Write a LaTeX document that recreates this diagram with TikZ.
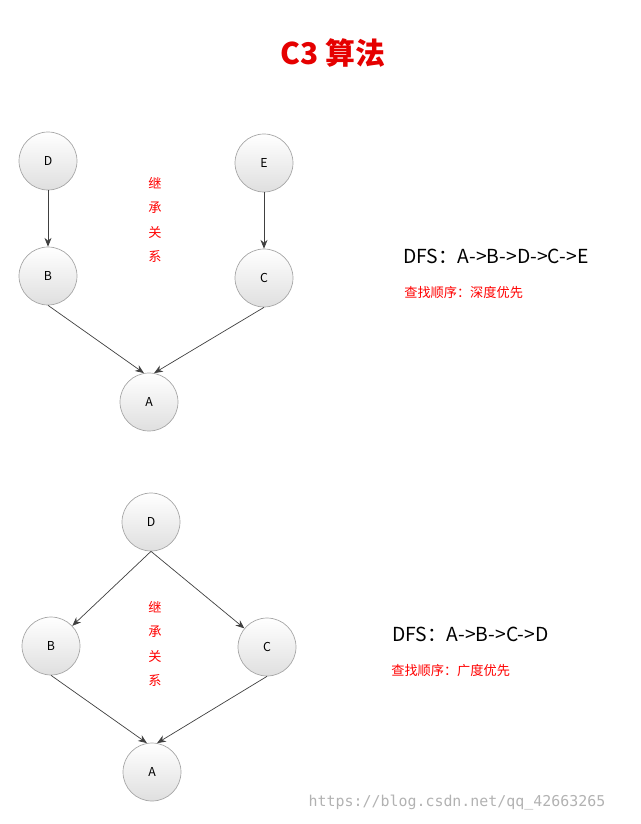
\documentclass[tikz,border=0pt]{standalone}
\usepackage{fontspec}
\setmainfont{Noto Sans CJK SC}
\setmonofont{DejaVu Sans Mono}
\usetikzlibrary{arrows.meta,shadings}

\begin{document}
\begin{tikzpicture}[x=0.02cm,y=-0.02cm,
    ball/.style={circle,draw=gray!70,inner sep=0pt,minimum size=0.2cm*5.8,
      top color=white,bottom color=gray!25,font=\fontsize{7}{8}\selectfont},
    link/.style={draw=black!75,-{Stealth[length=5pt,width=4pt]}},
    redtxt/.style={text=red,font=\fontsize{7.5}{9}\selectfont},
    rule/.style={anchor=west,inner sep=0pt,font=\fontsize{11}{13}\selectfont}]
    \useasboundingbox (0,0) rectangle (640,824);
    \node (title) at (333,53) [text=red!90!black,font=\fontsize{17}{20}\selectfont\bfseries] {C3 算法};

            % upper picture
            \node (d1) at (48,161) [ball] {D};
            \node (e1) at (264,163) [ball] {E};
            \node (b1) at (48,276) [ball] {B};
            \node (c1) at (264,278) [ball] {C};
            \node (a1) at (149,402) [ball] {A};
            \draw[link] (d1) -- (b1);
            \draw[link] (e1) -- (c1);
            \draw[link] (b1.south) -- (a1.100);
            \draw[link] (c1.south) -- (a1.80);
            \node (k1) at (155,220) [redtxt,align=center,text width=1em] {继\\[5pt]承\\[5pt]关\\[5pt]系};
            \node (r1) at (403,256) [rule] {DFS：A->B->D->C->E};
            \node (s1) at (404,292) [rule,redtxt] {查找顺序：深度优先};

            % lower picture
            \node (d2) at (151,522) [ball] {D};
            \node (b2) at (51,646) [ball] {B};
            \node (c2) at (267,647) [ball] {C};
            \node (a2) at (152,772) [ball] {A};
            \draw[link] (d2.south) -- (b2);
            \draw[link] (d2.south) -- (c2);
            \draw[link] (b2.south) -- (a2.100);
            \draw[link] (c2.south) -- (a2.80);
            \node (k2) at (155,644) [redtxt,align=center,text width=1em] {继\\[5pt]承\\[5pt]关\\[5pt]系};
            \node (r2) at (392,634) [rule] {DFS：A->B->C->D};
            \node (s2) at (391,671) [rule,redtxt] {查找顺序：广度优先};

    \node (w) at (457,803) [text=gray!60,font=\ttfamily\fontsize{8.5}{9}\selectfont] {https://blog.csdn.net/qq\_42663265};
\end{tikzpicture}
\end{document}
